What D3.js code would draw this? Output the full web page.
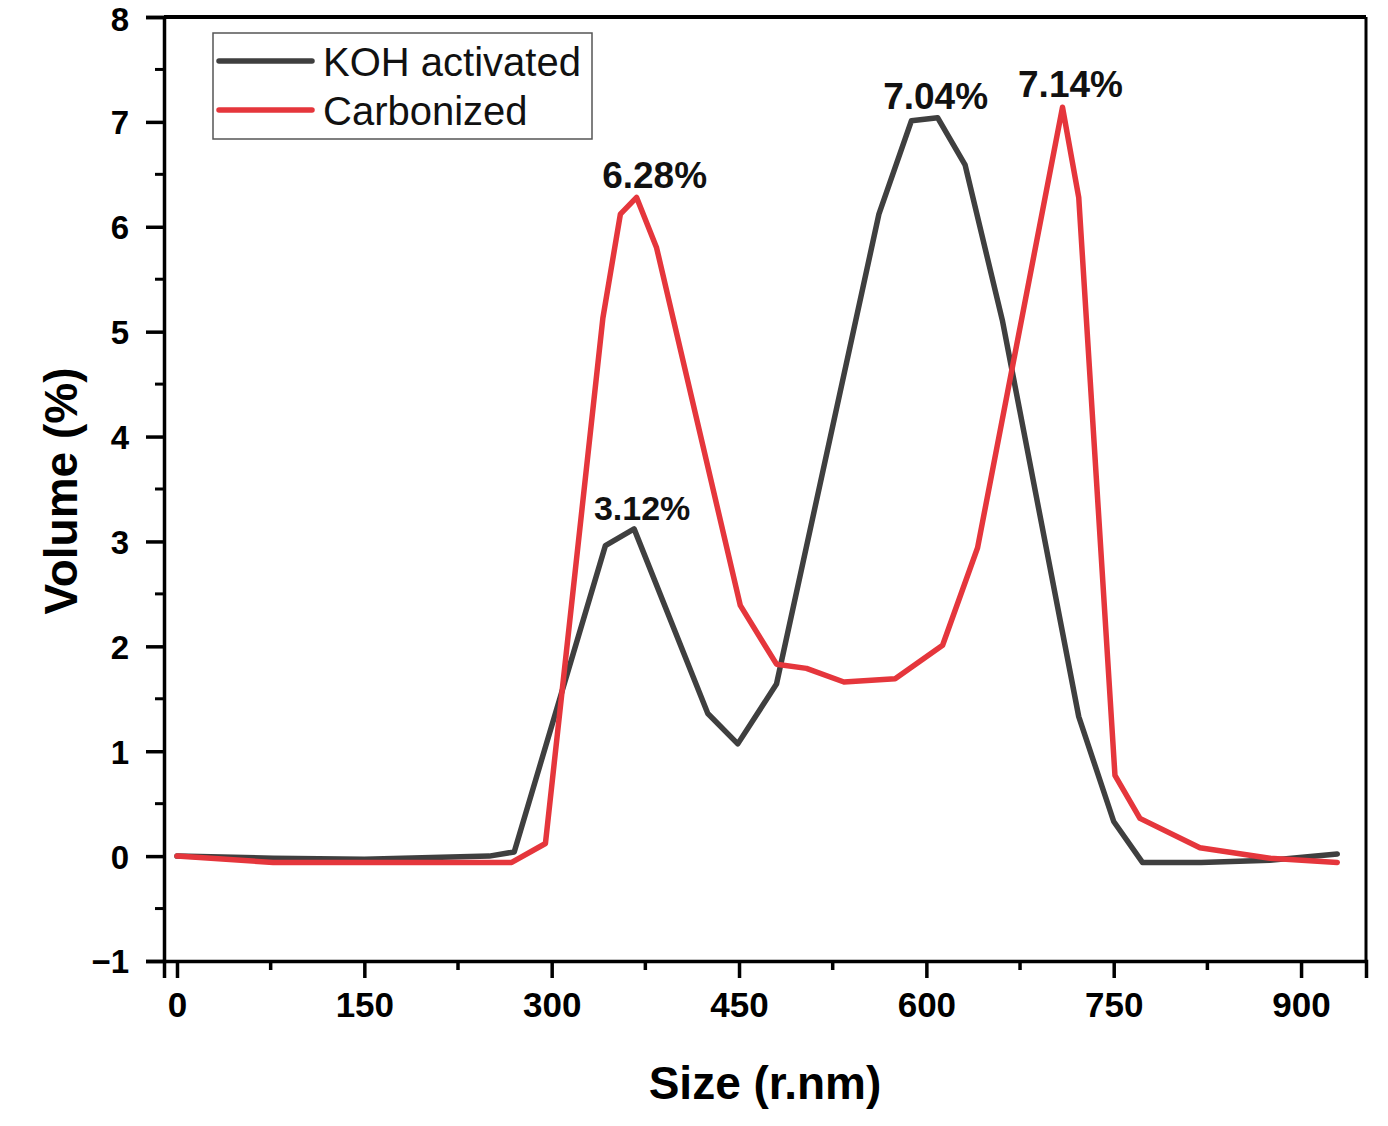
<!DOCTYPE html>
<html>
<head>
<meta charset="utf-8">
<script src="https://cdn.jsdelivr.net/npm/d3@7"></script>
<style>
  html, body { margin: 0; padding: 0; background: #fff; }
  svg { display: block; }
  text { font-family: "Liberation Sans", Arial, sans-serif; }
</style>
</head>
<body>
<svg id="chart" width="1388" height="1126"></svg>
<script>
// ---- data ----
const kohSize   = [0, 77, 150, 250, 270, 343, 366, 425, 449, 480, 562, 588, 609, 631, 661, 722, 750, 773, 820, 875, 929];
const kohVolume = [0, -0.02, -0.03, 0.0, 0.04, 2.96, 3.12, 1.36, 1.07, 1.64, 6.12, 7.01, 7.04, 6.59, 5.1, 1.33, 0.33, -0.06, -0.06, -0.04, 0.02];

const carbSize   = [0, 77, 268, 295, 341, 355, 368, 384, 451, 480, 504, 534, 575, 613, 641, 709, 722, 751, 771, 819, 875, 929];
const carbVolume = [0, -0.06, -0.06, 0.12, 5.13, 6.12, 6.28, 5.8, 2.39, 1.83, 1.79, 1.66, 1.69, 2.01, 2.94, 7.14, 6.28, 0.77, 0.36, 0.08, -0.02, -0.06];

const seriesNames = ["KOH activated", "Carbonized"];
const xTicks = [0, 150, 300, 450, 600, 750, 900];
const yTicks = [-1, 0, 1, 2, 3, 4, 5, 6, 7, 8];
const xTitle = "Size (r.nm)";
const yTitle = "Volume (%)";

const peakLabels = ["3.12%", "6.28%", "7.04%", "7.14%"];
const peakSizes  = [366, 368, 609, 709];
const peakValues = [3.12, 6.28, 7.04, 7.14];

// ---- layout ----
const svg = d3.select("#chart");
const L = 164, R = 1366, T = 17, B = 961;
const x = d3.scaleLinear().domain([-10.4, 952]).range([L, R]);
const y = d3.scaleLinear().domain([-1, 8]).range([B, T]);
const colors = ["#3f3f3f", "#e5363c"];

// frame (top & right)
svg.append("line").attr("x1", L).attr("x2", R).attr("y1", T).attr("y2", T)
  .attr("stroke", "#000").attr("stroke-width", 4);
svg.append("line").attr("x1", R).attr("x2", R).attr("y1", T).attr("y2", B)
  .attr("stroke", "#000").attr("stroke-width", 3);

// minor ticks
const gMinor = svg.append("g");
d3.range(-0.5, 8, 1).forEach(v => {
  gMinor.append("line").attr("x1", L - 9).attr("x2", L).attr("y1", y(v)).attr("y2", y(v))
    .attr("stroke", "#000").attr("stroke-width", 3);
});
d3.range(75, 952, 150).forEach(v => {
  gMinor.append("line").attr("x1", x(v)).attr("x2", x(v)).attr("y1", B).attr("y2", B + 9)
    .attr("stroke", "#000").attr("stroke-width", 3.5);
});

// axes
const yAxis = svg.append("g").attr("transform", `translate(${L},0)`)
  .call(d3.axisLeft(y).tickValues(yTicks).tickSize(18).tickPadding(17)
    .tickFormat(d => d < 0 ? "\u2212" + Math.abs(d) : d));
const xAxis = svg.append("g").attr("transform", `translate(0,${B})`)
  .call(d3.axisBottom(x).tickValues(xTicks).tickSize(17).tickPadding(14));

[xAxis, yAxis].forEach(g => {
  g.select(".domain").attr("stroke", "#000").attr("stroke-width", 3.5);
  g.selectAll(".tick line").attr("stroke", "#000").attr("stroke-width", 3.5);
  g.selectAll(".tick text").attr("fill", "#000")
    .style("font-family", "'Liberation Sans', Arial, sans-serif")
    .style("font-weight", "bold");
});
xAxis.selectAll(".tick text").style("font-size", "35px").attr("dy", "0.71em");
yAxis.selectAll(".tick text").style("font-size", "33px")
  .attr("dy", d => d === 8 ? "0.42em" : "0.36em");

// axis titles
svg.append("text").attr("x", 765).attr("y", 1099).attr("text-anchor", "middle")
  .style("font-size", "46px").style("font-weight", "bold").text(xTitle);
svg.append("text").attr("transform", "translate(77,491) rotate(-90)").attr("text-anchor", "middle")
  .style("font-size", "46px").style("font-weight", "bold").text(yTitle);

// lines
const line = d3.line().x(d => x(d[0])).y(d => y(d[1]));
const kohData = kohSize.map((s, i) => [s, kohVolume[i]]);
const carbData = carbSize.map((s, i) => [s, carbVolume[i]]);
[kohData, carbData].forEach((data, i) => {
  svg.append("path").datum(data).attr("d", line)
    .attr("fill", "none").attr("stroke", colors[i]).attr("stroke-width", 5.5)
    .attr("stroke-linejoin", "round").attr("stroke-linecap", "round");
});

// peak labels
const labelDx = [8, 18, -2, 8];
const labelDy = [-9, -9, -9, -10];
const labelSize = [34, 37, 37, 37];
peakLabels.forEach((t, i) => {
  svg.append("text").attr("x", x(peakSizes[i]) + labelDx[i]).attr("y", y(peakValues[i]) + labelDy[i])
    .attr("text-anchor", "middle").style("font-size", labelSize[i] + "px").style("font-weight", "bold")
    .attr("fill", "#111").text(t);
});

// legend
const lg = svg.append("g");
lg.append("rect").attr("x", 213).attr("y", 33).attr("width", 379).attr("height", 106)
  .attr("fill", "#fff").attr("stroke", "#555").attr("stroke-width", 1.5);
seriesNames.forEach((n, i) => {
  const yy = 61 + i * 49;
  lg.append("line").attr("x1", 219).attr("x2", 312).attr("y1", yy).attr("y2", yy)
    .attr("stroke", colors[i]).attr("stroke-width", 5.5).attr("stroke-linecap", "round");
  lg.append("text").attr("x", 323).attr("y", yy + 15).style("font-size", "40px")
    .attr("fill", "#111").text(n);
});
</script>
</body>
</html>
